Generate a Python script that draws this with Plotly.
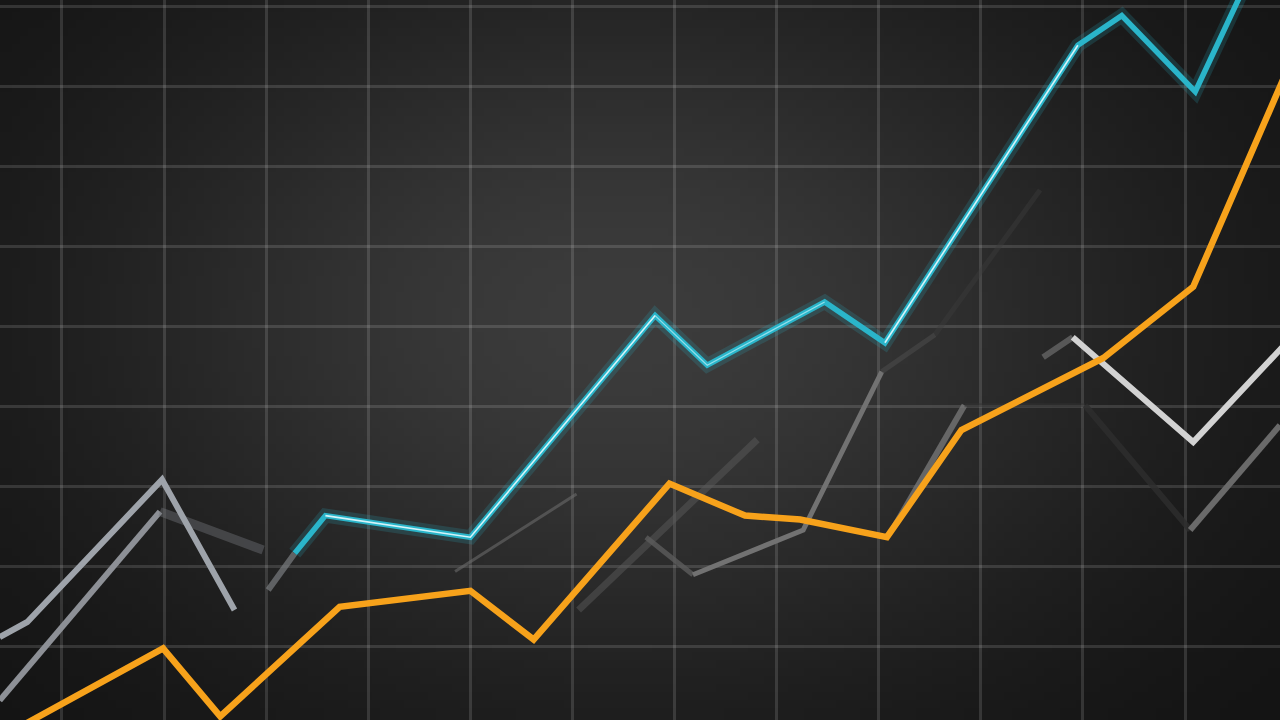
import base64
import struct
import zlib
import math
import plotly.graph_objects as go

# ---------------- data (grid units: one grid cell = 1) ----------------
cyan_x = [2.28, 2.58, 4.00, 5.81, 6.32, 7.47, 8.06, 9.95, 10.38, 11.10, 11.75]
cyan_y = [1.16, 1.63, 1.36, 4.13, 3.51, 4.30, 3.79, 7.51, 7.88, 6.93, 8.70]

orange_x = [-0.61, 0.99, 1.55, 2.72, 4.00, 4.62, 5.95, 6.69, 7.23, 8.08, 8.81, 10.20, 11.08, 12.13]
orange_y = [-1.15, -0.03, -0.88, 0.49, 0.69, 0.08, 2.03, 1.63, 1.58, 1.36, 2.70, 3.60, 4.49, 7.58]

steel_x = [-0.61, -0.34, 0.98, 1.69]
steel_y = [0.11, 0.30, 2.08, 0.45]

silver_x = [-0.61, 0.96, 1.97]
silver_y = [-0.68, 1.68, 1.20]

lead_x = [2.02, 2.28]
lead_y = [0.70, 1.16]

faint_x = [3.85, 5.04]
faint_y = [0.93, 1.90]

band_x = [5.06, 6.81]
band_y = [0.45, 2.58]

mid_x = [5.72, 6.18, 7.26, 8.03, 8.55]
mid_y = [1.36, 0.89, 1.45, 3.43, 3.89]

streak_x = [8.55, 9.58]
streak_y = [3.89, 5.70]

rise_x = [8.16, 8.84]
rise_y = [1.51, 3.01]

dark_x = [8.84, 10.02, 11.05, 11.93]
dark_y = [3.01, 3.01, 1.45, 2.76]

white_x = [9.61, 9.90, 11.08, 12.03]
white_y = [3.61, 3.86, 2.55, 3.84]

X_RANGE = [-0.607, 11.93]
Y_RANGE = [-0.925, 8.075]

# ---------------- radial background as small PNG ----------------
def make_png(w, h):
    rows = []
    for j in range(h):
        row = bytearray([0])
        for i in range(w):
            px = (i + 0.5) / w * 1280
            py = (j + 0.5) / h * 720
            dx = (px - 620) / 620
            dy = (py - 320) / 420
            d2 = dx * dx + dy * dy
            v = 17 + 43 * math.exp(-1.3 * d2)
            row.append(int(max(0, min(255, v))))
        rows.append(bytes(row))
    raw = b"".join(rows)

    def chunk(tag, data):
        c = struct.pack(">I", len(data)) + tag + data
        return c + struct.pack(">I", zlib.crc32(tag + data) & 0xFFFFFFFF)

    png = b"\x89PNG\r\n\x1a\n"
    png += chunk(b"IHDR", struct.pack(">IIBBBBB", w, h, 8, 0, 0, 0, 0))
    png += chunk(b"IDAT", zlib.compress(raw, 9))
    png += chunk(b"IEND", b"")
    return "data:image/png;base64," + base64.b64encode(png).decode()


fig = go.Figure()


def add_line(x, y, color, width, opacity=1.0):
    fig.add_trace(go.Scatter(
        x=x, y=y, mode="lines",
        line=dict(color=color, width=width),
        opacity=opacity, hoverinfo="skip", showlegend=False,
    ))


# gray background lines
add_line(streak_x, streak_y, "#3c3c3c", 5, 0.45)
add_line(faint_x, faint_y, "#6a6a6a", 3, 0.6)
add_line(band_x, band_y, "#5a5a5a", 7, 0.5)
add_line(mid_x[:2], mid_y[:2], "#5c5c5c", 5, 0.8)
add_line(mid_x[1:4], mid_y[1:4], "#727272", 5)
add_line(mid_x[3:], mid_y[3:], "#4a4a4a", 5, 0.6)
add_line(silver_x[:2], silver_y[:2], "#8d9096", 6)
add_line(silver_x[1:], silver_y[1:], "#6e7075", 9, 0.45)
add_line(steel_x, steel_y, "#9ea3aa", 6)
add_line(lead_x, lead_y, "#7a7d80", 6, 0.7)
add_line(rise_x, rise_y, "#7a7a7a", 6, 0.75)
add_line(dark_x[:2], dark_y[:2], "#333333", 4, 0.5)
add_line(dark_x[1:3], dark_y[1:3], "#2e2e2e", 6, 0.8)
add_line(dark_x[2:], dark_y[2:], "#6a6a6a", 6)
add_line(white_x[:2], white_y[:2], "#7a7a7a", 6, 0.6)
add_line(white_x[1:], white_y[1:], "#d2d2d2", 6)

# orange
add_line(orange_x, orange_y, "#f7a21b", 6.5)

# cyan with glow
add_line(cyan_x, cyan_y, "#2ab5ca", 14, 0.18)
add_line(cyan_x, cyan_y, "#2ab5ca", 5.5)
add_line(cyan_x[1:4], cyan_y[1:4], "#e8fbff", 1.6, 0.9)
add_line(cyan_x[6:8], cyan_y[6:8], "#e8fbff", 1.6, 0.9)
add_line(cyan_x[3:6], cyan_y[3:6], "#bff3fb", 1.2, 0.7)

fig.add_layout_image(dict(
    source=make_png(160, 90), xref="paper", yref="paper",
    x=0, y=1, sizex=1, sizey=1, sizing="stretch",
    layer="below", xanchor="left", yanchor="top",
))

axis_common = dict(
    showgrid=True, gridcolor="rgba(255,255,255,0.13)", gridwidth=2.5,
    zeroline=False, showticklabels=False, ticks="", showline=False,
    dtick=1, tick0=0, fixedrange=True,
)
fig.update_xaxes(range=X_RANGE, **axis_common)
fig.update_yaxes(range=Y_RANGE, **axis_common)

fig.update_layout(
    width=1280, height=720,
    margin=dict(l=0, r=0, t=0, b=0),
    paper_bgcolor="#1a1a1a", plot_bgcolor="rgba(0,0,0,0)",
    showlegend=False,
)

fig.write_html(
    "out.html",
    config={"displayModeBar": False},
    post_script="document.body.style.margin='0';document.body.style.overflow='hidden';",
)
